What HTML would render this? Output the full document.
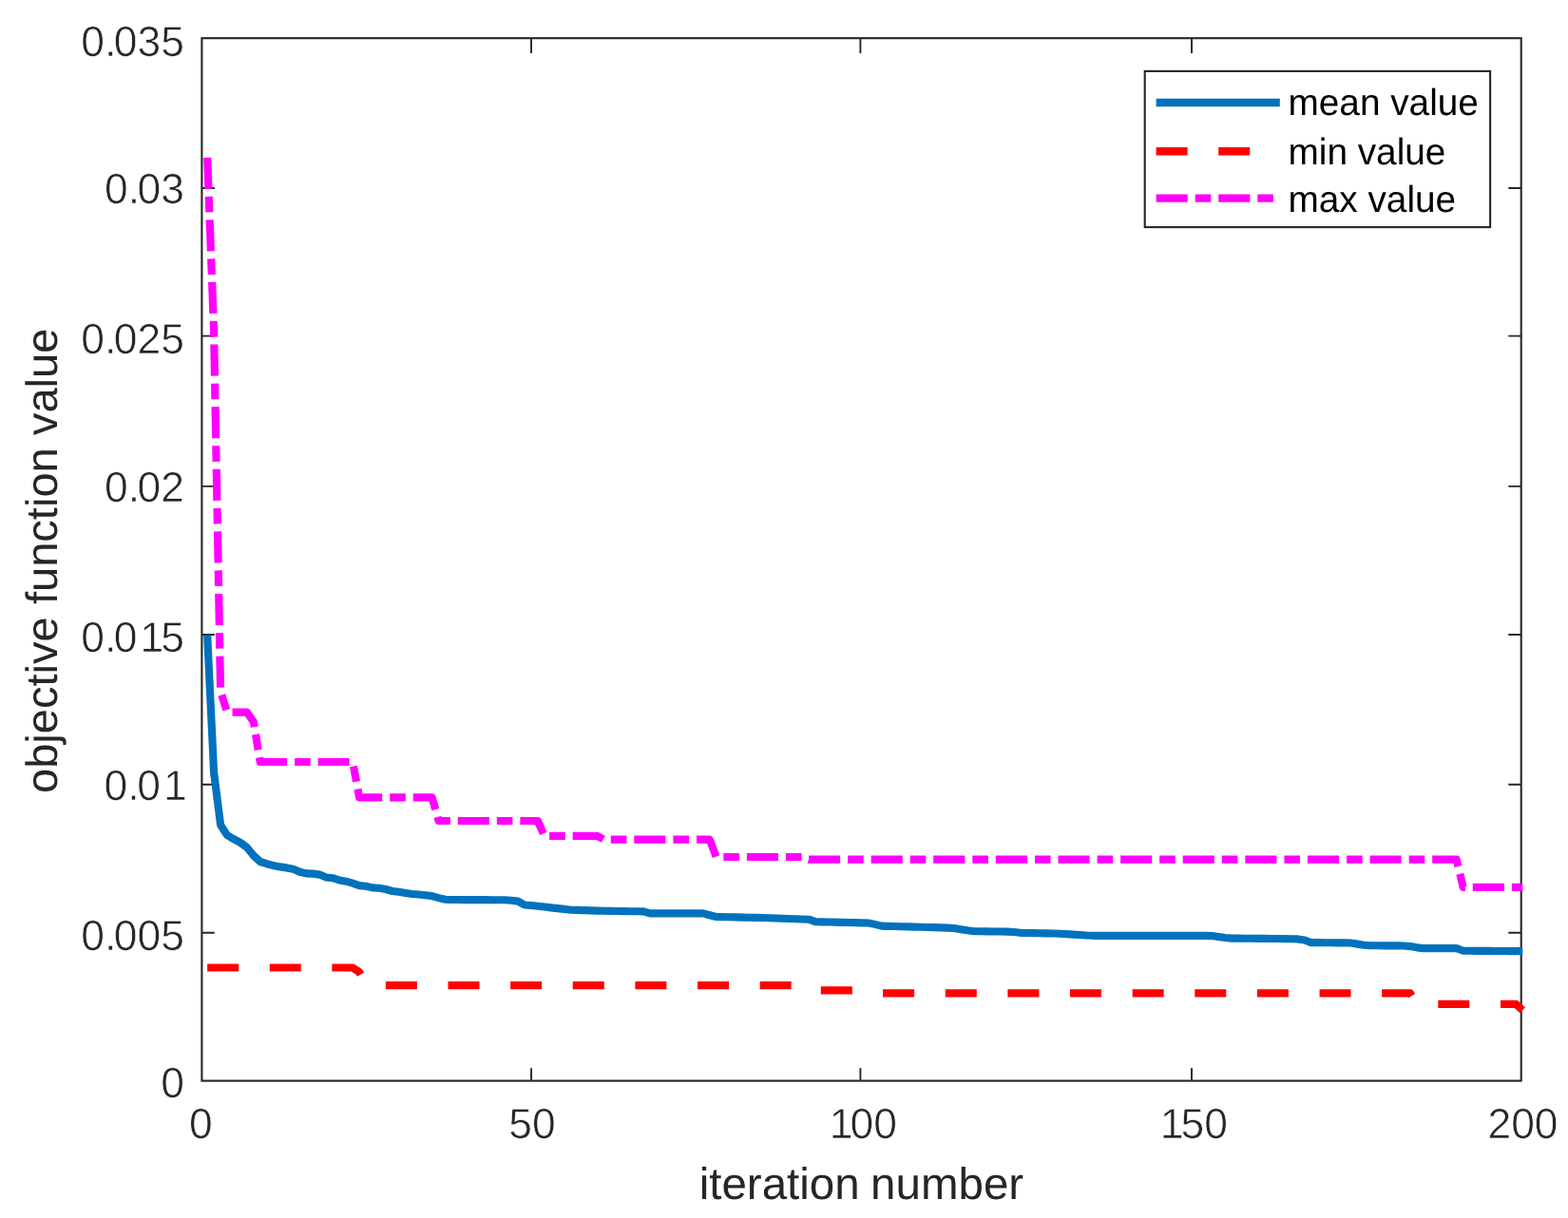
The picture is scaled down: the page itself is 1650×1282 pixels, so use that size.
<!DOCTYPE html>
<html lang="en"><head><meta charset="utf-8"><title>objective function value</title>
<style>
html,body{margin:0;padding:0;background:#fff;}
body{width:1650px;height:1282px;overflow:hidden;}
svg{display:block;}
text{font-family:"Liberation Sans",sans-serif;text-rendering:geometricPrecision;}
.tk{font-size:44.8px;fill:#262626;stroke:#fff;stroke-width:0.6px;}
.lb{font-size:47.0px;fill:#262626;word-spacing:-1.8px;}
.yl{font-size:46.5px;fill:#262626;}
.lg{font-size:39.2px;fill:#000000;}
</style></head><body>
<svg width="1650" height="1282" viewBox="0 0 1650 1282">
<rect x="0" y="0" width="1650" height="1282" fill="#ffffff"/>
<defs><clipPath id="ax"><rect x="211.40" y="40.20" width="1397.30" height="1097.40"/></clipPath>
<clipPath id="axr"><rect x="211.40" y="40.20" width="1397.30" height="1097.40"/></clipPath></defs>
<g stroke="#262626" stroke-width="2.1" fill="none">
<rect x="212.40" y="40.20" width="1388.30" height="1097.40"/>
<path stroke-width="1.9" d="M559.00,1137.60 v-13.40 M559.00,40.20 v15.80 M905.40,1137.60 v-13.40 M905.40,40.20 v15.80 M1254.00,1137.60 v-13.40 M1254.00,40.20 v15.80 M212.40,981.70 h13.40 M1600.70,981.70 h-13.40 M212.40,825.80 h13.40 M1600.70,825.80 h-13.40 M212.40,668.00 h13.40 M1600.70,668.00 h-13.40 M212.40,511.90 h13.40 M1600.70,511.90 h-13.40 M212.40,353.60 h13.40 M1600.70,353.60 h-13.40 M212.40,198.00 h13.40 M1600.70,198.00 h-13.40"/>
</g>
<g fill="none" stroke-linejoin="round" stroke-linecap="butt">
<path clip-path="url(#ax)" d="M218.16,668.50 L225.11,813.20 L232.07,868.20 L239.02,879.10 L245.98,883.20 L252.93,886.90 L259.89,892.00 L266.84,900.50 L273.80,907.00 L280.75,909.20 L287.71,911.10 L294.66,912.40 L301.62,913.40 L308.57,914.70 L315.53,917.80 L322.48,919.40 L329.44,919.60 L336.40,920.60 L343.35,923.50 L350.31,924.20 L357.26,926.50 L364.22,927.70 L371.17,929.70 L378.13,932.10 L385.08,932.80 L392.04,934.40 L398.99,934.70 L405.95,936.00 L412.90,938.00 L419.86,938.80 L426.81,939.90 L433.77,941.00 L440.72,941.50 L447.68,942.30 L454.64,943.10 L461.59,945.10 L468.55,946.70 L475.50,947.00 L482.46,947.04 L489.41,947.08 L496.37,947.11 L503.32,947.15 L510.28,947.19 L517.23,947.23 L524.19,947.26 L531.14,947.30 L538.10,947.80 L545.05,948.60 L552.01,952.50 L558.96,953.00 L565.92,953.78 L572.88,954.57 L579.83,955.35 L586.79,956.13 L593.74,956.92 L600.70,957.70 L607.65,957.92 L614.61,958.14 L621.56,958.36 L628.52,958.58 L635.47,958.80 L642.43,958.90 L649.38,959.00 L656.34,959.10 L663.29,959.20 L670.25,959.30 L677.21,959.40 L684.16,961.40 L691.12,961.40 L698.07,961.40 L705.03,961.40 L711.98,961.40 L718.94,961.40 L725.89,961.40 L732.85,961.40 L739.80,961.40 L746.76,963.20 L753.71,965.00 L760.67,965.14 L767.62,965.29 L774.58,965.43 L781.53,965.57 L788.49,965.71 L795.45,965.86 L802.40,966.00 L809.36,966.24 L816.31,966.49 L823.27,966.73 L830.22,966.97 L837.18,967.21 L844.13,967.46 L851.09,967.70 L858.04,970.20 L865.00,970.36 L871.95,970.52 L878.91,970.67 L885.86,970.83 L892.82,970.99 L899.77,971.15 L906.73,971.31 L913.69,971.47 L920.64,972.88 L927.60,974.65 L934.55,974.87 L941.51,975.05 L948.46,975.23 L955.42,975.41 L962.37,975.59 L969.33,975.77 L976.28,975.97 L983.24,976.17 L990.19,976.37 L997.15,976.57 L1004.10,977.06 L1011.06,978.17 L1018.01,979.27 L1024.97,980.21 L1031.93,980.30 L1038.88,980.38 L1045.84,980.47 L1052.79,980.55 L1059.75,980.64 L1066.70,980.95 L1073.66,981.82 L1080.61,981.95 L1087.57,982.08 L1094.52,982.21 L1101.48,982.34 L1108.43,982.47 L1115.39,982.80 L1122.34,983.19 L1129.30,983.58 L1136.25,984.03 L1143.21,984.52 L1150.17,984.80 L1157.12,984.80 L1164.08,984.80 L1171.03,984.80 L1177.99,984.80 L1184.94,984.80 L1191.90,984.80 L1198.85,984.80 L1205.81,984.80 L1212.76,984.80 L1219.72,984.80 L1226.67,984.80 L1233.63,984.80 L1240.58,984.80 L1247.54,984.80 L1254.50,984.80 L1261.45,984.80 L1268.41,984.80 L1275.36,985.08 L1282.32,986.03 L1289.27,986.98 L1296.23,987.62 L1303.18,987.68 L1310.14,987.74 L1317.09,987.80 L1324.05,987.86 L1331.00,987.92 L1337.96,987.98 L1344.91,988.04 L1351.87,988.10 L1358.82,988.25 L1365.78,988.40 L1372.74,989.52 L1379.69,992.11 L1386.65,992.16 L1393.60,992.21 L1400.56,992.26 L1407.51,992.31 L1414.47,992.35 L1421.42,992.48 L1428.38,993.61 L1435.33,994.74 L1442.29,995.23 L1449.24,995.28 L1456.20,995.33 L1463.15,995.38 L1470.11,995.42 L1477.06,995.47 L1484.02,996.09 L1490.98,997.36 L1497.93,998.10 L1504.89,998.10 L1511.84,998.10 L1518.80,998.10 L1525.75,998.10 L1532.71,998.10 L1539.66,1000.71 L1546.62,1000.76 L1553.57,1000.81 L1560.53,1000.87 L1567.48,1000.92 L1574.44,1000.98 L1581.39,1001.03 L1588.35,1001.09 L1595.30,1001.14 L1602.26,1001.19" stroke="#0072BD" stroke-width="8.15"/>
<path clip-path="url(#axr)" d="M218.16,1018.50 L225.11,1018.50 L232.07,1018.50 L239.02,1018.50 L245.98,1018.50 L252.93,1018.50 L259.89,1018.50 L266.84,1018.50 L273.80,1018.50 L280.75,1018.50 L287.71,1018.50 L294.66,1018.50 L301.62,1018.50 L308.57,1018.50 L315.53,1018.50 L322.48,1018.50 L329.44,1018.50 L336.40,1018.50 L343.35,1018.50 L350.31,1018.50 L357.26,1018.50 L364.22,1018.50 L371.17,1018.50 L378.13,1023.20 L385.08,1036.10 L392.04,1036.70 L398.99,1037.00 L405.95,1037.10 L412.90,1037.10 L419.86,1037.10 L426.81,1037.10 L433.77,1037.10 L440.72,1037.10 L447.68,1037.10 L454.64,1037.10 L461.59,1037.10 L468.55,1037.10 L475.50,1037.10 L482.46,1037.10 L489.41,1037.10 L496.37,1037.10 L503.32,1037.10 L510.28,1037.10 L517.23,1037.10 L524.19,1037.10 L531.14,1037.10 L538.10,1037.10 L545.05,1037.10 L552.01,1037.10 L558.96,1037.10 L565.92,1037.10 L572.88,1037.10 L579.83,1037.10 L586.79,1037.10 L593.74,1037.10 L600.70,1037.10 L607.65,1037.10 L614.61,1037.10 L621.56,1037.10 L628.52,1037.10 L635.47,1037.10 L642.43,1037.10 L649.38,1037.10 L656.34,1037.10 L663.29,1037.10 L670.25,1037.10 L677.21,1037.10 L684.16,1037.10 L691.12,1037.10 L698.07,1037.10 L705.03,1037.10 L711.98,1037.10 L718.94,1037.10 L725.89,1037.10 L732.85,1037.10 L739.80,1037.10 L746.76,1037.10 L753.71,1037.10 L760.67,1037.10 L767.62,1037.10 L774.58,1037.10 L781.53,1037.10 L788.49,1037.10 L795.45,1037.10 L802.40,1037.10 L809.36,1037.10 L816.31,1037.10 L823.27,1037.10 L830.22,1037.10 L837.18,1037.10 L844.13,1037.10 L851.09,1037.70 L858.04,1042.40 L865.00,1042.40 L871.95,1042.40 L878.91,1042.40 L885.86,1042.40 L892.82,1042.40 L899.77,1042.40 L906.73,1042.40 L913.69,1043.60 L920.64,1045.40 L927.60,1045.40 L934.55,1045.40 L941.51,1045.40 L948.46,1045.40 L955.42,1045.40 L962.37,1045.40 L969.33,1045.40 L976.28,1045.40 L983.24,1045.40 L990.19,1045.40 L997.15,1045.40 L1004.10,1045.40 L1011.06,1045.40 L1018.01,1045.40 L1024.97,1045.40 L1031.93,1045.40 L1038.88,1045.40 L1045.84,1045.40 L1052.79,1045.40 L1059.75,1045.40 L1066.70,1045.40 L1073.66,1045.40 L1080.61,1045.40 L1087.57,1045.40 L1094.52,1045.40 L1101.48,1045.40 L1108.43,1045.40 L1115.39,1045.40 L1122.34,1045.40 L1129.30,1045.40 L1136.25,1045.40 L1143.21,1045.40 L1150.17,1045.40 L1157.12,1045.40 L1164.08,1045.40 L1171.03,1045.40 L1177.99,1045.40 L1184.94,1045.40 L1191.90,1045.40 L1198.85,1045.40 L1205.81,1045.40 L1212.76,1045.40 L1219.72,1045.40 L1226.67,1045.40 L1233.63,1045.40 L1240.58,1045.40 L1247.54,1045.40 L1254.50,1045.40 L1261.45,1045.40 L1268.41,1045.40 L1275.36,1045.40 L1282.32,1045.40 L1289.27,1045.40 L1296.23,1045.40 L1303.18,1045.40 L1310.14,1045.40 L1317.09,1045.40 L1324.05,1045.40 L1331.00,1045.40 L1337.96,1045.40 L1344.91,1045.40 L1351.87,1045.40 L1358.82,1045.40 L1365.78,1045.40 L1372.74,1045.40 L1379.69,1045.40 L1386.65,1045.40 L1393.60,1045.40 L1400.56,1045.40 L1407.51,1045.40 L1414.47,1045.40 L1421.42,1045.40 L1428.38,1045.40 L1435.33,1045.40 L1442.29,1045.40 L1449.24,1045.40 L1456.20,1045.40 L1463.15,1045.40 L1470.11,1045.40 L1477.06,1045.40 L1484.02,1045.40 L1490.98,1056.90 L1497.93,1056.90 L1504.89,1056.90 L1511.84,1056.90 L1518.80,1056.90 L1525.75,1056.90 L1532.71,1056.90 L1539.66,1056.90 L1546.62,1056.90 L1553.57,1056.90 L1560.53,1056.90 L1567.48,1056.90 L1574.44,1056.90 L1581.39,1056.90 L1588.35,1056.90 L1595.30,1056.90 L1602.26,1063.20" stroke="#FF0000" stroke-width="8.15" stroke-dasharray="33 32.63" stroke-dashoffset="0"/>
<path clip-path="url(#ax)" d="M218.16,165.00 L225.11,350.20 L232.07,727.50 L239.02,749.60 L245.98,749.60 L252.93,749.60 L259.89,749.60 L266.84,759.80 L273.80,802.00 L280.75,802.00 L287.71,802.00 L294.66,802.00 L301.62,802.00 L308.57,802.00 L315.53,802.00 L322.48,802.00 L329.44,802.00 L336.40,802.00 L343.35,802.00 L350.31,802.00 L357.26,802.00 L364.22,802.00 L371.17,802.00 L378.13,839.40 L385.08,839.40 L392.04,839.40 L398.99,839.40 L405.95,839.40 L412.90,839.40 L419.86,839.40 L426.81,839.40 L433.77,839.40 L440.72,839.40 L447.68,839.40 L454.64,839.40 L461.59,864.00 L468.55,864.00 L475.50,864.00 L482.46,864.00 L489.41,864.00 L496.37,864.00 L503.32,864.00 L510.28,864.00 L517.23,864.00 L524.19,864.00 L531.14,864.00 L538.10,864.00 L545.05,864.00 L552.01,864.00 L558.96,864.00 L565.92,864.00 L572.88,879.80 L579.83,879.80 L586.79,879.80 L593.74,879.80 L600.70,879.80 L607.65,879.80 L614.61,879.80 L621.56,879.80 L628.52,879.80 L635.47,883.60 L642.43,883.60 L649.38,883.60 L656.34,883.60 L663.29,883.60 L670.25,883.60 L677.21,883.60 L684.16,883.60 L691.12,883.60 L698.07,883.60 L705.03,883.60 L711.98,883.60 L718.94,883.60 L725.89,883.60 L732.85,883.60 L739.80,883.60 L746.76,883.60 L753.71,902.00 L760.67,902.00 L767.62,902.00 L774.58,902.00 L781.53,902.00 L788.49,902.00 L795.45,902.00 L802.40,902.00 L809.36,902.00 L816.31,902.00 L823.27,902.00 L830.22,902.00 L837.18,902.00 L844.13,902.00 L851.09,904.60 L858.04,904.60 L865.00,904.60 L871.95,904.60 L878.91,904.60 L885.86,904.60 L892.82,904.60 L899.77,904.60 L906.73,904.60 L913.69,904.60 L920.64,904.60 L927.60,904.60 L934.55,904.60 L941.51,904.60 L948.46,904.60 L955.42,904.60 L962.37,904.60 L969.33,904.60 L976.28,904.60 L983.24,904.60 L990.19,904.60 L997.15,904.60 L1004.10,904.60 L1011.06,904.60 L1018.01,904.60 L1024.97,904.60 L1031.93,904.60 L1038.88,904.60 L1045.84,904.60 L1052.79,904.60 L1059.75,904.60 L1066.70,904.60 L1073.66,904.60 L1080.61,904.60 L1087.57,904.60 L1094.52,904.60 L1101.48,904.60 L1108.43,904.60 L1115.39,904.60 L1122.34,904.60 L1129.30,904.60 L1136.25,904.60 L1143.21,904.60 L1150.17,904.60 L1157.12,904.60 L1164.08,904.60 L1171.03,904.60 L1177.99,904.60 L1184.94,904.60 L1191.90,904.60 L1198.85,904.60 L1205.81,904.60 L1212.76,904.60 L1219.72,904.60 L1226.67,904.60 L1233.63,904.60 L1240.58,904.60 L1247.54,904.60 L1254.50,904.60 L1261.45,904.60 L1268.41,904.60 L1275.36,904.60 L1282.32,904.60 L1289.27,904.60 L1296.23,904.60 L1303.18,904.60 L1310.14,904.60 L1317.09,904.60 L1324.05,904.60 L1331.00,904.60 L1337.96,904.60 L1344.91,904.60 L1351.87,904.60 L1358.82,904.60 L1365.78,904.60 L1372.74,904.60 L1379.69,904.60 L1386.65,904.60 L1393.60,904.60 L1400.56,904.60 L1407.51,904.60 L1414.47,904.60 L1421.42,904.60 L1428.38,904.60 L1435.33,904.60 L1442.29,904.60 L1449.24,904.60 L1456.20,904.60 L1463.15,904.60 L1470.11,904.60 L1477.06,904.60 L1484.02,904.60 L1490.98,904.60 L1497.93,904.60 L1504.89,904.60 L1511.84,904.60 L1518.80,904.60 L1525.75,904.60 L1532.71,904.60 L1539.66,933.80 L1546.62,933.80 L1553.57,933.80 L1560.53,933.80 L1567.48,933.80 L1574.44,933.80 L1581.39,933.80 L1588.35,933.80 L1595.30,933.80 L1602.26,933.80" stroke="#FF00FF" stroke-width="8.15" stroke-dasharray="33.1 8 16.6 7.92" stroke-dashoffset="-0.8"/>
</g>
<g>
<text class="tk" transform="translate(194.00,58.50) scale(0.992,1)" text-anchor="end" dx="0 0 -2.5 0 0">0.035</text>
<text class="tk" transform="translate(194.00,214.20) scale(0.992,1)" text-anchor="end" dx="0 0 -2.5 0">0.03</text>
<text class="tk" transform="translate(194.00,372.20) scale(0.992,1)" text-anchor="end" dx="0 0 -2.5 0 0">0.025</text>
<text class="tk" transform="translate(194.00,527.90) scale(0.992,1)" text-anchor="end" dx="0 0 -2.5 0">0.02</text>
<text class="tk" transform="translate(194.00,686.10) scale(0.992,1)" text-anchor="end" dx="0 0 -2.5 3 -3">0.015</text>
<text class="tk" transform="translate(196.60,841.80) scale(0.992,1)" text-anchor="end" dx="0 0 -2.5 3">0.01</text>
<text class="tk" transform="translate(194.00,999.80) scale(0.992,1)" text-anchor="end" dx="0 0 -2.5 0 0">0.005</text>
<text class="tk" transform="translate(194.00,1155.20) scale(0.992,1)" text-anchor="end">0</text>
<text class="tk" transform="translate(211.30,1198.10) scale(0.992,1)" text-anchor="middle">0</text>
<text class="tk" transform="translate(560.00,1198.10) scale(0.992,1)" text-anchor="middle">50</text>
<text class="tk" transform="translate(905.30,1198.10) scale(0.992,1)" text-anchor="middle" dx="3 -3 0">100</text>
<text class="tk" transform="translate(1253.40,1198.10) scale(0.992,1)" text-anchor="middle" dx="3 -3 0">150</text>
<text class="tk" transform="translate(1602.50,1198.10) scale(0.992,1)" text-anchor="middle">200</text>
</g>
<text class="lb" transform="translate(906.40,1262.40) scale(1.011,1)" text-anchor="middle">iteration number</text>
<text class="yl" transform="translate(60.00,590.30) rotate(-90) scale(1.0125,1)" text-anchor="middle">objective function value</text>
<rect x="1204.70" y="74.90" width="363.40" height="164.20" fill="#ffffff" stroke="#262626" stroke-width="2.1"/>
<g fill="none">
<path d="M1216.60,108.00 H1346.80" stroke="#0072BD" stroke-width="8.4"/>
<path d="M1216.60,159.30 H1346.80" stroke="#FF0000" stroke-width="8.4" stroke-dasharray="33 32.63"/>
<path d="M1216.60,208.60 H1346.80" stroke="#FF00FF" stroke-width="8.4" stroke-dasharray="33.1 8 16.6 7.92"/>
</g>
<g>
<text class="lg" transform="translate(1355.50,121.10) scale(0.989,1)" text-anchor="start">mean value</text>
<text class="lg" transform="translate(1355.50,172.50) scale(0.989,1)" text-anchor="start">min value</text>
<text class="lg" transform="translate(1355.50,223.30) scale(0.989,1)" text-anchor="start">max value</text>
</g>
</svg>
</body></html>
